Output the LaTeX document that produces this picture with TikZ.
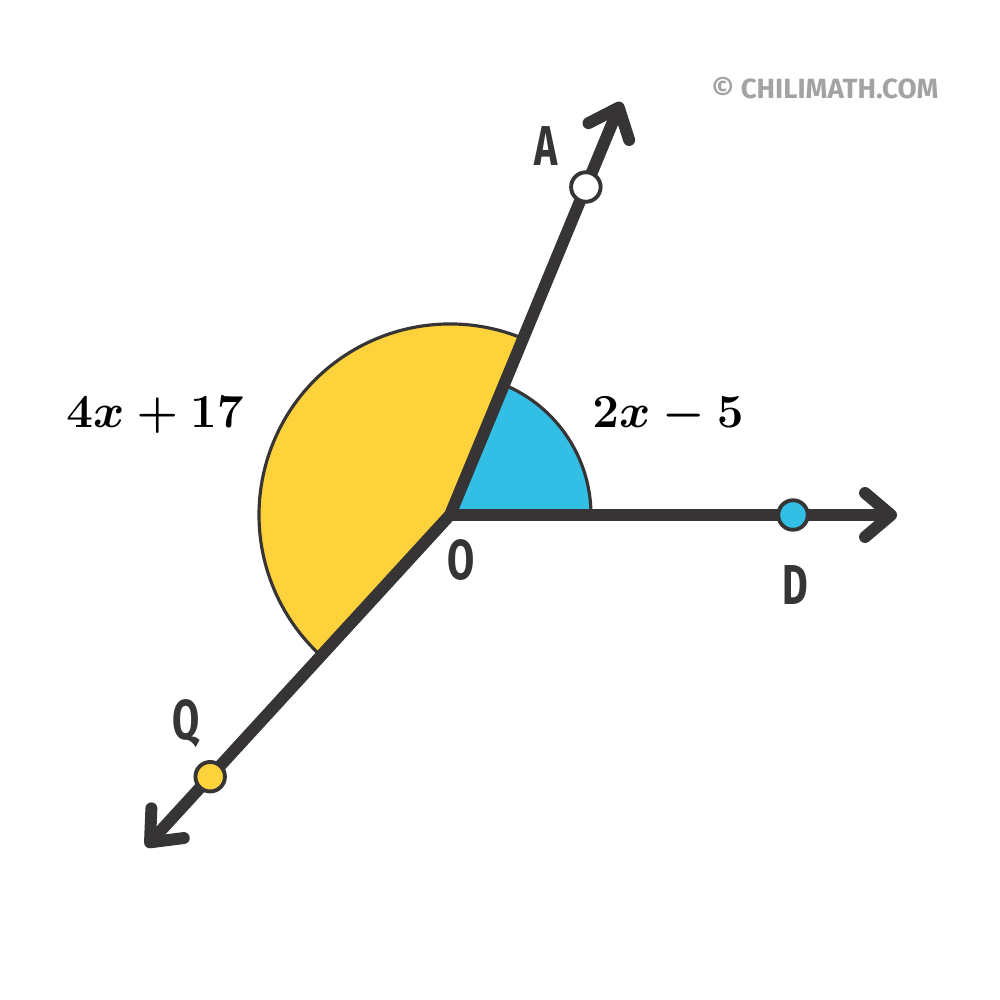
\RequirePackage{fix-cm}
\documentclass[tikz,border=0pt]{standalone}
\usepackage{fontspec}
\usepackage{amsmath}
\usetikzlibrary{arrows.meta}
\newfontfamily\markfont[FakeStretch=0.7]{Fira Sans}
\newfontfamily\wmfont{Fira Sans}
\definecolor{ink}{HTML}{363435}
\definecolor{sunny}{HTML}{FED23A}
\definecolor{sky}{HTML}{33BFE5}
\definecolor{wmgray}{HTML}{A3A3A3}

\begin{document}
\begin{tikzpicture}[>={Straight Barb[length=2.6mm,width=4.4mm,round]},
    ray/.style={ink, line width=3.4pt, ->},
    ptdot/.style={circle, draw=ink, line width=1.1pt, minimum size=2.95mm, inner sep=0pt},
    ptlabel/.style={text=ink, font=\markfont\bfseries\fontsize{16}{16}\selectfont},
    expr/.style={font=\fontsize{13.5}{15}\selectfont\boldmath},
    credit/.style={text=wmgray, font=\wmfont\bfseries\fontsize{7.9}{10}\selectfont}]
    \useasboundingbox (-4.5,-4.85) rectangle (5.5,5.15);
    \def\thetaA{67.5}
    \def\thetaQ{227.5}
    \def\rsmall{1.41}
    \def\rbig{1.91}
    \def\lray{4.47}

    \coordinate (O) at (0,0);
    \coordinate (Atip) at (\thetaA:\lray);
    \coordinate (Dtip) at (0:\lray);
    \coordinate (Qtip) at (\thetaQ:4.5);

    % the two angles
    \fill[sunny] (O) -- (\thetaA:\rbig) arc(\thetaA:\thetaQ:\rbig) -- cycle;
    \draw[ink, line width=0.9pt] (\thetaA:\rbig) arc(\thetaA:\thetaQ:\rbig);
    \fill[sky] (O) -- (\rsmall,0) arc(0:\thetaA:\rsmall) -- cycle;
    \draw[ink, line width=0.9pt] (\rsmall,0) arc(0:\thetaA:\rsmall);

    % rays
    \draw[ray, <->] (Atip) -- (O) -- (Dtip);
    \draw[ray, line cap=round] (O) -- (Qtip);

    % points on the rays
    \node[ptdot, fill=white] (A) at (\thetaA:3.55) {};
    \node[ptdot, fill=sky] (D) at (3.43,0) {};
    \node[ptdot, fill=sunny] (Q) at (\thetaQ:3.55) {};

    \node[ptlabel] (labA) at (0.96,3.69) {A};
    \node[ptlabel] (labO) at (0.11,-0.45) {O};
    \node[ptlabel] (labD) at (3.45,-0.70) {D};
    \node[ptlabel] (labQ) at (-2.64,-2.09) {Q};

    \node[expr] (angAQ) at (-2.95,1.0) {$4x+17$};
    \node[expr] (angAD) at (2.18,1.0) {$2x-5$};

    \node[credit] (mark) at (3.75,4.27) {© CHILIMATH.COM};
\end{tikzpicture}
\end{document}
